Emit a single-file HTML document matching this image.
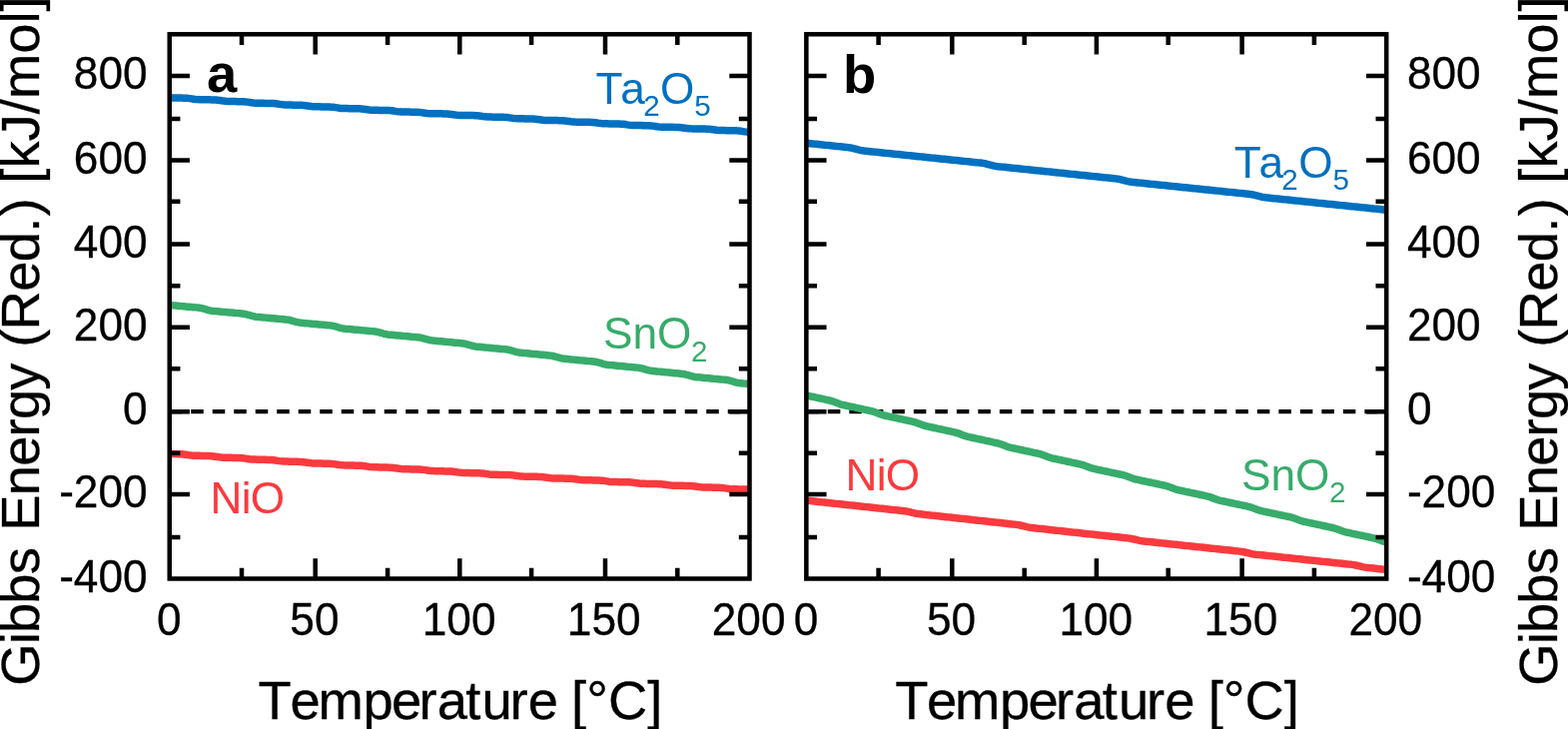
<!DOCTYPE html>
<html><head><meta charset="utf-8"><title>Gibbs Energy (Red.) vs Temperature</title>
<style>
html,body{margin:0;padding:0;background:#fff;}
body{width:1570px;height:730px;overflow:hidden;}
svg{display:block;}
text{font-kerning:none;font-family:"Liberation Sans",Arial,Helvetica,sans-serif;fill:#000;}
.tk{font-size:44.2px;stroke:#000;stroke-width:0.3px;}
.ax{font-size:54.4px;stroke:#000;stroke-width:0.3px;}
.pl{font-size:54.4px;font-weight:bold;}
.sr{font-size:44.2px;}
.sb{font-size:29.5px;}
</style></head><body>
<svg width="1570" height="730" viewBox="0 0 1570 730">
<rect width="1570" height="730" fill="#fff"/>
<defs>
<clipPath id="ca"><rect x="169.75" y="34.3" width="580.75" height="545.2"/></clipPath>
<clipPath id="cb"><rect x="807.35" y="34.3" width="580.85" height="545.2"/></clipPath>
</defs>

<g id="panel-a">
<line x1="169.75" y1="412.1" x2="750.5" y2="412.1" stroke="#000" stroke-width="4.4" stroke-dasharray="12.5 9"/>
<polyline clip-path="url(#ca)" points="165.8,97.54 167.8,97.76 169.8,97.88 171.8,97.92 173.8,97.96 175.8,98.00 177.8,98.04 179.8,98.08 181.8,98.12 183.8,98.16 185.8,98.21 187.8,98.36 189.8,98.60 191.8,98.89 193.8,99.18 195.8,99.43 197.8,99.61 199.8,99.68 201.8,99.72 203.8,99.75 205.8,99.79 207.8,99.83 209.8,99.87 211.8,99.91 213.8,99.95 215.8,100.04 217.8,100.24 219.8,100.51 221.8,100.81 223.8,101.09 225.8,101.31 227.8,101.43 229.8,101.47 231.8,101.51 233.8,101.55 235.8,101.59 237.8,101.63 239.8,101.67 241.8,101.71 243.8,101.76 245.8,101.91 247.8,102.15 249.8,102.43 251.8,102.72 253.8,102.98 255.8,103.16 257.8,103.22 259.8,103.26 261.8,103.30 263.8,103.34 265.8,103.38 267.8,103.42 269.8,103.46 271.8,103.50 273.8,103.59 275.8,103.79 277.8,104.06 279.8,104.35 281.8,104.63 283.8,104.85 285.8,104.97 287.8,105.01 289.8,105.05 291.8,105.09 293.8,105.13 295.8,105.17 297.8,105.21 299.8,105.25 301.8,105.30 303.8,105.45 305.8,105.69 307.8,105.98 309.8,106.27 311.8,106.53 313.8,106.70 315.8,106.77 317.8,106.81 319.8,106.85 321.8,106.89 323.8,106.93 325.8,106.97 327.8,107.01 329.8,107.04 331.8,107.14 333.8,107.34 335.8,107.60 337.8,107.90 339.8,108.18 341.8,108.40 343.8,108.52 345.8,108.56 347.8,108.60 349.8,108.64 351.8,108.68 353.8,108.72 355.8,108.76 357.8,108.80 359.8,108.85 361.8,109.00 363.8,109.24 365.8,109.52 367.8,109.81 369.8,110.06 371.8,110.23 373.8,110.29 375.8,110.33 377.8,110.36 379.8,110.40 381.8,110.43 383.8,110.47 385.8,110.50 387.8,110.54 389.8,110.62 391.8,110.82 393.8,111.08 395.8,111.37 397.8,111.65 399.8,111.86 401.8,111.98 403.8,112.01 405.8,112.05 407.8,112.08 409.8,112.12 411.8,112.15 413.8,112.19 415.8,112.22 417.8,112.27 419.8,112.41 421.8,112.65 423.8,112.93 425.8,113.22 427.8,113.47 429.8,113.64 431.8,113.70 433.8,113.74 435.8,113.77 437.8,113.81 439.8,113.84 441.8,113.87 443.8,113.91 445.8,113.94 447.8,114.03 449.8,114.22 451.8,114.48 453.8,114.77 455.8,115.05 457.8,115.26 459.8,115.38 461.8,115.41 463.8,115.44 465.8,115.48 467.8,115.51 469.8,115.54 471.8,115.58 473.8,115.61 475.8,115.65 477.8,115.80 479.8,116.03 481.8,116.31 483.8,116.60 485.8,116.85 487.8,117.02 489.8,117.08 491.8,117.11 493.8,117.15 495.8,117.18 497.8,117.21 499.8,117.25 501.8,117.28 503.8,117.31 505.8,117.40 507.8,117.59 509.8,117.85 511.8,118.14 513.8,118.41 515.8,118.63 517.8,118.75 519.8,118.78 521.8,118.81 523.8,118.85 525.8,118.88 527.8,118.91 529.8,118.95 531.8,118.98 533.8,119.02 535.8,119.17 537.8,119.40 539.8,119.68 541.8,119.97 543.8,120.22 545.8,120.39 547.8,120.45 549.8,120.48 551.8,120.51 553.8,120.55 555.8,120.58 557.8,120.61 559.8,120.65 561.8,120.68 563.8,120.77 565.8,120.96 567.8,121.22 569.8,121.51 571.8,121.78 573.8,122.00 575.8,122.11 577.8,122.15 579.8,122.18 581.8,122.22 583.8,122.25 585.8,122.28 587.8,122.32 589.8,122.35 591.8,122.39 593.8,122.54 595.8,122.77 597.8,123.05 599.8,123.34 601.8,123.59 603.8,123.76 605.8,123.82 607.8,123.85 609.8,123.88 611.8,123.92 613.8,123.95 615.8,123.98 617.8,124.02 619.8,124.05 621.8,124.14 623.8,124.33 625.8,124.59 627.8,124.88 629.8,125.15 631.8,125.37 633.8,125.48 635.8,125.52 637.8,125.55 639.8,125.58 641.8,125.62 643.8,125.65 645.8,125.68 647.8,125.72 649.8,125.76 651.8,125.91 653.8,126.14 655.8,126.42 657.8,126.71 659.8,126.95 661.8,127.13 663.8,127.19 665.8,127.22 667.8,127.25 669.8,127.29 671.8,127.32 673.8,127.35 675.8,127.39 677.8,127.42 679.8,127.50 681.8,127.70 683.8,127.96 685.8,128.25 687.8,128.52 689.8,128.74 691.8,128.85 693.8,128.89 695.8,128.92 697.8,128.95 699.8,128.99 701.8,129.02 703.8,129.05 705.8,129.09 707.8,129.13 709.8,129.27 711.8,129.51 713.8,129.79 715.8,130.07 717.8,130.32 719.8,130.49 721.8,130.55 723.8,130.59 725.8,130.62 727.8,130.65 729.8,130.69 731.8,130.72 733.8,130.76 735.8,130.79 737.8,130.87 739.8,131.07 741.8,131.33 743.8,131.62 745.8,131.89 747.8,132.11 749.8,132.22 751.8,132.26 753.8,132.29" fill="none" stroke="#0070c0" stroke-width="7.5" stroke-linejoin="round"/>
<polyline clip-path="url(#ca)" points="165.8,304.89 167.8,305.29 169.8,305.51 171.8,305.70 173.8,305.88 175.8,306.06 177.8,306.24 179.8,306.43 181.8,306.61 183.8,306.79 185.8,306.98 187.8,307.16 189.8,307.34 191.8,307.53 193.8,307.71 195.8,307.89 197.8,308.08 199.8,308.28 201.8,308.63 203.8,309.13 205.8,309.71 207.8,310.29 209.8,310.82 211.8,311.22 213.8,311.44 215.8,311.63 217.8,311.81 219.8,311.99 221.8,312.18 223.8,312.36 225.8,312.54 227.8,312.73 229.8,312.91 231.8,313.09 233.8,313.28 235.8,313.46 237.8,313.64 239.8,313.83 241.8,314.01 243.8,314.21 245.8,314.57 247.8,315.07 249.8,315.64 251.8,316.22 253.8,316.75 255.8,317.15 257.8,317.37 259.8,317.56 261.8,317.74 263.8,317.92 265.8,318.11 267.8,318.29 269.8,318.47 271.8,318.66 273.8,318.84 275.8,319.02 277.8,319.21 279.8,319.39 281.8,319.57 283.8,319.76 285.8,319.94 287.8,320.14 289.8,320.50 291.8,321.00 293.8,321.57 295.8,322.15 297.8,322.68 299.8,323.08 301.8,323.31 303.8,323.49 305.8,323.67 307.8,323.86 309.8,324.04 311.8,324.22 313.8,324.40 315.8,324.59 317.8,324.77 319.8,324.95 321.8,325.14 323.8,325.32 325.8,325.50 327.8,325.69 329.8,325.87 331.8,326.07 333.8,326.43 335.8,326.93 337.8,327.50 339.8,328.09 341.8,328.61 343.8,329.01 345.8,329.24 347.8,329.42 349.8,329.60 351.8,329.79 353.8,329.97 355.8,330.15 357.8,330.34 359.8,330.52 361.8,330.70 363.8,330.89 365.8,331.07 367.8,331.25 369.8,331.44 371.8,331.62 373.8,331.80 375.8,332.00 377.8,332.36 379.8,332.86 381.8,333.43 383.8,334.02 385.8,334.54 387.8,334.94 389.8,335.17 391.8,335.35 393.8,335.53 395.8,335.72 397.8,335.90 399.8,336.08 401.8,336.27 403.8,336.45 405.8,336.63 407.8,336.82 409.8,337.00 411.8,337.18 413.8,337.37 415.8,337.55 417.8,337.73 419.8,337.93 421.8,338.29 423.8,338.79 425.8,339.37 427.8,339.95 429.8,340.47 431.8,340.87 433.8,341.10 435.8,341.28 437.8,341.47 439.8,341.65 441.8,341.83 443.8,342.02 445.8,342.20 447.8,342.39 449.8,342.58 451.8,342.77 453.8,342.96 455.8,343.16 457.8,343.35 459.8,343.54 461.8,343.73 463.8,343.93 465.8,344.30 467.8,344.81 469.8,345.39 471.8,345.98 473.8,346.51 475.8,346.92 477.8,347.15 479.8,347.35 481.8,347.54 483.8,347.73 485.8,347.92 487.8,348.11 489.8,348.30 491.8,348.49 493.8,348.68 495.8,348.87 497.8,349.06 499.8,349.25 501.8,349.45 503.8,349.64 505.8,349.83 507.8,350.03 509.8,350.40 511.8,350.91 513.8,351.49 515.8,352.08 517.8,352.61 519.8,353.02 521.8,353.25 523.8,353.44 525.8,353.64 527.8,353.83 529.8,354.02 531.8,354.21 533.8,354.40 535.8,354.59 537.8,354.78 539.8,354.97 541.8,355.16 543.8,355.35 545.8,355.54 547.8,355.74 549.8,355.93 551.8,356.13 553.8,356.50 555.8,357.01 557.8,357.59 559.8,358.18 561.8,358.71 563.8,359.12 565.8,359.35 567.8,359.54 569.8,359.73 571.8,359.93 573.8,360.12 575.8,360.31 577.8,360.50 579.8,360.69 581.8,360.88 583.8,361.07 585.8,361.26 587.8,361.45 589.8,361.64 591.8,361.83 593.8,362.03 595.8,362.23 597.8,362.60 599.8,363.11 601.8,363.69 603.8,364.28 605.8,364.81 607.8,365.22 609.8,365.45 611.8,365.64 613.8,365.83 615.8,366.02 617.8,366.22 619.8,366.41 621.8,366.60 623.8,366.79 625.8,366.98 627.8,367.17 629.8,367.36 631.8,367.55 633.8,367.74 635.8,367.93 637.8,368.12 639.8,368.33 641.8,368.70 643.8,369.20 645.8,369.79 647.8,370.38 649.8,370.91 651.8,371.32 653.8,371.55 655.8,371.74 657.8,371.93 659.8,372.12 661.8,372.31 663.8,372.51 665.8,372.70 667.8,372.89 669.8,373.08 671.8,373.27 673.8,373.46 675.8,373.65 677.8,373.84 679.8,374.03 681.8,374.22 683.8,374.43 685.8,374.80 687.8,375.30 689.8,375.89 691.8,376.48 693.8,377.01 695.8,377.42 697.8,377.65 699.8,377.84 701.8,378.03 703.8,378.22 705.8,378.41 707.8,378.60 709.8,378.80 711.8,378.99 713.8,379.18 715.8,379.37 717.8,379.56 719.8,379.75 721.8,379.94 723.8,380.13 725.8,380.32 727.8,380.53 729.8,380.89 731.8,381.40 733.8,381.98 735.8,382.58 737.8,383.11 739.8,383.52 741.8,383.75 743.8,383.94 745.8,384.13 747.8,384.32 749.8,384.51 751.8,384.70 753.8,384.89" fill="none" stroke="#37ac6b" stroke-width="7.5" stroke-linejoin="round"/>
<polyline clip-path="url(#ca)" points="165.8,454.35 167.8,454.40 169.8,454.45 171.8,454.49 173.8,454.54 175.8,454.59 177.8,454.64 179.8,454.69 181.8,454.79 183.8,455.00 185.8,455.27 187.8,455.58 189.8,455.86 191.8,456.09 193.8,456.22 195.8,456.27 197.8,456.32 199.8,456.37 201.8,456.42 203.8,456.47 205.8,456.51 207.8,456.56 209.8,456.61 211.8,456.71 213.8,456.92 215.8,457.20 217.8,457.50 219.8,457.79 221.8,458.02 223.8,458.15 225.8,458.20 227.8,458.24 229.8,458.29 231.8,458.34 233.8,458.39 235.8,458.44 237.8,458.48 239.8,458.53 241.8,458.63 243.8,458.84 245.8,459.12 247.8,459.42 249.8,459.71 251.8,459.94 253.8,460.07 255.8,460.12 257.8,460.17 259.8,460.21 261.8,460.26 263.8,460.31 265.8,460.36 267.8,460.41 269.8,460.46 271.8,460.56 273.8,460.76 275.8,461.04 277.8,461.34 279.8,461.63 281.8,461.86 283.8,461.99 285.8,462.04 287.8,462.09 289.8,462.14 291.8,462.19 293.8,462.23 295.8,462.28 297.8,462.33 299.8,462.38 301.8,462.48 303.8,462.69 305.8,462.96 307.8,463.27 309.8,463.56 311.8,463.79 313.8,463.92 315.8,463.96 317.8,464.01 319.8,464.06 321.8,464.11 323.8,464.16 325.8,464.21 327.8,464.25 329.8,464.30 331.8,464.40 333.8,464.61 335.8,464.89 337.8,465.19 339.8,465.48 341.8,465.71 343.8,465.84 345.8,465.89 347.8,465.94 349.8,465.98 351.8,466.03 353.8,466.08 355.8,466.13 357.8,466.18 359.8,466.23 361.8,466.33 363.8,466.53 365.8,466.81 367.8,467.11 369.8,467.40 371.8,467.63 373.8,467.76 375.8,467.81 377.8,467.86 379.8,467.91 381.8,467.96 383.8,468.00 385.8,468.05 387.8,468.10 389.8,468.15 391.8,468.25 393.8,468.46 395.8,468.73 397.8,469.04 399.8,469.32 401.8,469.55 403.8,469.68 405.8,469.73 407.8,469.78 409.8,469.83 411.8,469.88 413.8,469.93 415.8,469.98 417.8,470.02 419.8,470.07 421.8,470.17 423.8,470.38 425.8,470.66 427.8,470.96 429.8,471.25 431.8,471.48 433.8,471.61 435.8,471.66 437.8,471.71 439.8,471.75 441.8,471.80 443.8,471.85 445.8,471.90 447.8,471.94 449.8,471.98 451.8,472.07 453.8,472.27 455.8,472.54 457.8,472.84 459.8,473.12 461.8,473.34 463.8,473.46 465.8,473.50 467.8,473.54 469.8,473.58 471.8,473.63 473.8,473.67 475.8,473.71 477.8,473.75 479.8,473.79 481.8,473.88 483.8,474.08 485.8,474.35 487.8,474.65 489.8,474.93 491.8,475.15 493.8,475.27 495.8,475.32 497.8,475.36 499.8,475.40 501.8,475.44 503.8,475.48 505.8,475.52 507.8,475.56 509.8,475.60 511.8,475.69 513.8,475.89 515.8,476.16 517.8,476.46 519.8,476.74 521.8,476.96 523.8,477.09 525.8,477.13 527.8,477.17 529.8,477.21 531.8,477.25 533.8,477.29 535.8,477.33 537.8,477.37 539.8,477.41 541.8,477.50 543.8,477.71 545.8,477.98 547.8,478.27 549.8,478.55 551.8,478.77 553.8,478.90 555.8,478.94 557.8,478.98 559.8,479.02 561.8,479.06 563.8,479.10 565.8,479.14 567.8,479.18 569.8,479.22 571.8,479.32 573.8,479.52 575.8,479.79 577.8,480.08 579.8,480.36 581.8,480.59 583.8,480.71 585.8,480.75 587.8,480.79 589.8,480.83 591.8,480.87 593.8,480.91 595.8,480.95 597.8,481.00 599.8,481.04 601.8,481.13 603.8,481.33 605.8,481.60 607.8,481.90 609.8,482.18 611.8,482.40 613.8,482.52 615.8,482.56 617.8,482.60 619.8,482.64 621.8,482.69 623.8,482.73 625.8,482.77 627.8,482.81 629.8,482.85 631.8,482.94 633.8,483.14 635.8,483.41 637.8,483.71 639.8,483.99 641.8,484.21 643.8,484.33 645.8,484.37 647.8,484.42 649.8,484.46 651.8,484.50 653.8,484.54 655.8,484.58 657.8,484.62 659.8,484.66 661.8,484.75 663.8,484.95 665.8,485.22 667.8,485.52 669.8,485.80 671.8,486.02 673.8,486.14 675.8,486.19 677.8,486.23 679.8,486.27 681.8,486.31 683.8,486.35 685.8,486.39 687.8,486.43 689.8,486.47 691.8,486.56 693.8,486.77 695.8,487.04 697.8,487.33 699.8,487.61 701.8,487.83 703.8,487.96 705.8,488.00 707.8,488.04 709.8,488.08 711.8,488.12 713.8,488.16 715.8,488.20 717.8,488.24 719.8,488.28 721.8,488.38 723.8,488.58 725.8,488.85 727.8,489.14 729.8,489.42 731.8,489.65 733.8,489.77 735.8,489.81 737.8,489.85 739.8,489.89 741.8,489.93 743.8,489.97 745.8,490.01 747.8,490.05 749.8,490.10 751.8,490.19 753.8,490.39" fill="none" stroke="#fa3a3e" stroke-width="7.5" stroke-linejoin="round"/>
<path d="M242.00 579.5v-10.7M242.00 34.3v10.7M315.70 579.5v-20.2M315.70 34.3v20.2M388.10 579.5v-10.7M388.10 34.3v10.7M460.30 579.5v-20.2M460.30 34.3v20.2M532.10 579.5v-10.7M532.10 34.3v10.7M606.00 579.5v-20.2M606.00 34.3v20.2M678.30 579.5v-10.7M678.30 34.3v10.7M169.75 538.10h10.7M750.5 538.10h-10.7M169.75 495.05h20.2M750.5 495.05h-20.2M169.75 453.70h10.7M750.5 453.70h-10.7M169.75 412.20h20.2M750.5 412.20h-20.2M169.75 369.30h10.7M750.5 369.30h-10.7M169.75 327.70h20.2M750.5 327.70h-20.2M169.75 286.20h10.7M750.5 286.20h-10.7M169.75 244.60h20.2M750.5 244.60h-20.2M169.75 201.80h10.7M750.5 201.80h-10.7M169.75 160.50h20.2M750.5 160.50h-20.2M169.75 119.00h10.7M750.5 119.00h-10.7M169.75 76.00h20.2M750.5 76.00h-20.2" stroke="#000" stroke-width="4.5" fill="none"/>
<rect x="169.75" y="34.3" width="580.75" height="545.20" fill="none" stroke="#000" stroke-width="4.5"/>
<text class="tk" transform="translate(169.4,635.6) scale(1,1.04)" text-anchor="middle">0</text>
<text class="tk" transform="translate(314.9,635.6) scale(1,1.04)" text-anchor="middle">50</text>
<text class="tk" transform="translate(459.6,635.6) scale(1,1.04)" text-anchor="middle">100</text>
<text class="tk" transform="translate(604.7,635.6) scale(1,1.04)" text-anchor="middle">150</text>
<text class="tk" transform="translate(749.6,635.6) scale(1,1.04)" text-anchor="middle">200</text>
</g>
<g id="panel-b">
<line x1="807.35" y1="412.1" x2="1388.2" y2="412.1" stroke="#000" stroke-width="4.4" stroke-dasharray="12.5 9"/>
<polyline clip-path="url(#cb)" points="803.4,142.89 805.4,143.10 807.4,143.30 809.4,143.51 811.4,143.72 813.4,143.92 815.4,144.13 817.4,144.34 819.4,144.54 821.4,144.75 823.4,144.96 825.4,145.16 827.4,145.37 829.4,145.58 831.4,145.78 833.4,145.99 835.4,146.20 837.4,146.40 839.4,146.61 841.4,146.81 843.4,147.02 845.4,147.23 847.4,147.43 849.4,147.64 851.4,147.95 853.4,148.38 855.4,148.89 857.4,149.43 859.4,149.96 861.4,150.44 863.4,150.83 865.4,151.09 867.4,151.30 869.4,151.51 871.4,151.71 873.4,151.92 875.4,152.13 877.4,152.33 879.4,152.54 881.4,152.74 883.4,152.95 885.4,153.16 887.4,153.36 889.4,153.57 891.4,153.78 893.4,153.98 895.4,154.19 897.4,154.40 899.4,154.60 901.4,154.81 903.4,155.02 905.4,155.22 907.4,155.43 909.4,155.64 911.4,155.84 913.4,156.05 915.4,156.25 917.4,156.46 919.4,156.67 921.4,156.87 923.4,157.08 925.4,157.29 927.4,157.49 929.4,157.70 931.4,157.91 933.4,158.11 935.4,158.32 937.4,158.53 939.4,158.73 941.4,158.94 943.4,159.15 945.4,159.35 947.4,159.56 949.4,159.77 951.4,159.97 953.4,160.18 955.4,160.38 957.4,160.59 959.4,160.80 961.4,161.00 963.4,161.21 965.4,161.42 967.4,161.62 969.4,161.83 971.4,162.04 973.4,162.24 975.4,162.45 977.4,162.66 979.4,162.86 981.4,163.07 983.4,163.28 985.4,163.59 987.4,164.02 989.4,164.52 991.4,165.06 993.4,165.59 995.4,166.08 997.4,166.47 999.4,166.73 1001.4,166.93 1003.4,167.14 1005.4,167.35 1007.4,167.55 1009.4,167.76 1011.4,167.97 1013.4,168.17 1015.4,168.38 1017.4,168.59 1019.4,168.79 1021.4,169.00 1023.4,169.21 1025.3,169.41 1027.3,169.62 1029.3,169.83 1031.3,170.03 1033.3,170.24 1035.3,170.44 1037.3,170.65 1039.3,170.86 1041.3,171.06 1043.3,171.27 1045.3,171.48 1047.3,171.68 1049.3,171.89 1051.3,172.10 1053.3,172.30 1055.3,172.51 1057.3,172.72 1059.3,172.92 1061.3,173.13 1063.3,173.34 1065.3,173.54 1067.3,173.75 1069.3,173.95 1071.3,174.16 1073.3,174.37 1075.3,174.57 1077.3,174.78 1079.3,174.99 1081.3,175.19 1083.3,175.40 1085.3,175.60 1087.3,175.81 1089.3,176.01 1091.3,176.22 1093.3,176.42 1095.3,176.63 1097.3,176.83 1099.3,177.04 1101.3,177.24 1103.3,177.45 1105.3,177.65 1107.3,177.86 1109.3,178.06 1111.3,178.27 1113.3,178.47 1115.3,178.68 1117.3,178.88 1119.3,179.19 1121.3,179.62 1123.3,180.12 1125.3,180.66 1127.3,181.19 1129.3,181.67 1131.3,182.06 1133.3,182.32 1135.3,182.53 1137.3,182.73 1139.3,182.93 1141.3,183.14 1143.3,183.34 1145.3,183.55 1147.3,183.75 1149.3,183.96 1151.3,184.16 1153.3,184.37 1155.3,184.57 1157.3,184.78 1159.3,184.98 1161.3,185.19 1163.3,185.39 1165.3,185.60 1167.3,185.80 1169.3,186.01 1171.3,186.21 1173.3,186.42 1175.3,186.62 1177.3,186.83 1179.3,187.03 1181.3,187.24 1183.3,187.44 1185.3,187.65 1187.3,187.85 1189.3,188.06 1191.3,188.26 1193.3,188.46 1195.3,188.67 1197.3,188.87 1199.3,189.08 1201.3,189.28 1203.3,189.49 1205.3,189.69 1207.3,189.90 1209.3,190.10 1211.3,190.31 1213.3,190.51 1215.3,190.72 1217.3,190.92 1219.3,191.13 1221.3,191.33 1223.3,191.54 1225.3,191.74 1227.3,191.95 1229.3,192.15 1231.3,192.36 1233.3,192.56 1235.3,192.77 1237.3,192.97 1239.3,193.18 1241.3,193.38 1243.3,193.59 1245.3,193.79 1247.3,194.00 1249.3,194.20 1251.3,194.41 1253.3,194.71 1255.3,195.14 1257.3,195.64 1259.3,196.18 1261.3,196.71 1263.3,197.20 1265.3,197.58 1267.3,197.84 1269.3,198.05 1271.3,198.25 1273.3,198.46 1275.3,198.66 1277.3,198.87 1279.3,199.07 1281.3,199.28 1283.3,199.48 1285.3,199.69 1287.3,199.89 1289.3,200.10 1291.3,200.30 1293.3,200.51 1295.3,200.71 1297.3,200.92 1299.3,201.12 1301.3,201.33 1303.3,201.53 1305.3,201.73 1307.3,201.94 1309.3,202.14 1311.3,202.35 1313.3,202.55 1315.3,202.76 1317.3,202.96 1319.3,203.17 1321.3,203.37 1323.3,203.58 1325.3,203.78 1327.3,203.99 1329.3,204.19 1331.3,204.40 1333.3,204.60 1335.3,204.81 1337.3,205.01 1339.3,205.22 1341.3,205.42 1343.3,205.63 1345.3,205.83 1347.3,206.04 1349.3,206.24 1351.3,206.45 1353.3,206.65 1355.3,206.86 1357.3,207.06 1359.3,207.26 1361.3,207.47 1363.3,207.67 1365.3,207.88 1367.3,208.08 1369.3,208.29 1371.3,208.49 1373.3,208.70 1375.3,208.90 1377.3,209.11 1379.3,209.31 1381.3,209.52 1383.3,209.72 1385.3,209.93 1387.3,210.24 1389.3,210.66 1391.3,211.17" fill="none" stroke="#0070c0" stroke-width="7.5" stroke-linejoin="round"/>
<polyline clip-path="url(#cb)" points="803.4,395.09 805.4,395.52 807.4,395.96 809.4,396.39 811.4,396.82 813.4,397.26 815.4,397.69 817.4,398.12 819.4,398.55 821.4,398.99 823.4,399.42 825.4,399.85 827.4,400.29 829.4,400.72 831.4,401.19 833.4,401.82 835.4,402.54 837.4,403.31 839.4,404.07 841.4,404.77 843.4,405.34 845.4,405.78 847.4,406.22 849.4,406.65 851.4,407.08 853.4,407.51 855.4,407.95 857.4,408.38 859.4,408.81 861.4,409.25 863.4,409.68 865.4,410.11 867.4,410.55 869.4,410.98 871.4,411.41 873.4,411.89 875.4,412.51 877.4,413.23 879.4,414.00 881.4,414.76 883.4,415.46 885.4,416.03 887.4,416.47 889.4,416.91 891.4,417.34 893.4,417.77 895.4,418.21 897.4,418.64 899.4,419.07 901.4,419.51 903.4,419.94 905.4,420.37 907.4,420.80 909.4,421.24 911.4,421.67 913.4,422.10 915.4,422.58 917.4,423.20 919.4,423.92 921.4,424.70 923.4,425.46 925.4,426.15 927.4,426.72 929.4,427.17 931.4,427.60 933.4,428.03 935.4,428.47 937.4,428.90 939.4,429.33 941.4,429.76 943.4,430.20 945.4,430.63 947.4,431.06 949.4,431.50 951.4,431.93 953.4,432.36 955.4,432.80 957.4,433.27 959.4,433.89 961.4,434.62 963.4,435.39 965.4,436.15 967.4,436.84 969.4,437.42 971.4,437.86 973.4,438.29 975.4,438.72 977.4,439.16 979.4,439.59 981.4,440.02 983.4,440.46 985.4,440.89 987.4,441.32 989.4,441.76 991.4,442.19 993.4,442.62 995.4,443.05 997.4,443.49 999.4,443.96 1001.4,444.58 1003.4,445.31 1005.4,446.08 1007.4,446.84 1009.4,447.53 1011.4,448.11 1013.4,448.55 1015.4,448.98 1017.4,449.42 1019.4,449.85 1021.4,450.28 1023.4,450.72 1025.3,451.15 1027.3,451.58 1029.3,452.01 1031.3,452.45 1033.3,452.88 1035.3,453.31 1037.3,453.75 1039.3,454.18 1041.3,454.65 1043.3,455.28 1045.3,456.00 1047.3,456.77 1049.3,457.53 1051.3,458.23 1053.3,458.80 1055.3,459.24 1057.3,459.68 1059.3,460.11 1061.3,460.54 1063.3,460.97 1065.3,461.41 1067.3,461.84 1069.3,462.27 1071.3,462.71 1073.3,463.14 1075.3,463.57 1077.3,464.01 1079.3,464.44 1081.3,464.87 1083.3,465.35 1085.3,465.96 1087.3,466.68 1089.3,467.44 1091.3,468.20 1093.3,468.89 1095.3,469.45 1097.3,469.89 1099.3,470.32 1101.3,470.74 1103.3,471.17 1105.3,471.60 1107.3,472.02 1109.3,472.45 1111.3,472.88 1113.3,473.30 1115.3,473.73 1117.3,474.16 1119.3,474.59 1121.3,475.01 1123.3,475.44 1125.3,475.91 1127.3,476.52 1129.3,477.24 1131.3,478.01 1133.3,478.76 1135.3,479.45 1137.3,480.02 1139.3,480.45 1141.3,480.88 1143.3,481.31 1145.3,481.73 1147.3,482.16 1149.3,482.59 1151.3,483.01 1153.3,483.44 1155.3,483.87 1157.3,484.29 1159.3,484.72 1161.3,485.15 1163.3,485.57 1165.3,486.00 1167.3,486.47 1169.3,487.09 1171.3,487.80 1173.3,488.57 1175.3,489.32 1177.3,490.01 1179.3,490.58 1181.3,491.02 1183.3,491.44 1185.3,491.87 1187.3,492.30 1189.3,492.72 1191.3,493.15 1193.3,493.58 1195.3,494.00 1197.3,494.43 1199.3,494.86 1201.3,495.28 1203.3,495.71 1205.3,496.14 1207.3,496.56 1209.3,497.03 1211.3,497.65 1213.3,498.37 1215.3,499.13 1217.3,499.89 1219.3,500.57 1221.3,501.14 1223.3,501.58 1225.3,502.00 1227.3,502.43 1229.3,502.86 1231.3,503.28 1233.3,503.71 1235.3,504.14 1237.3,504.57 1239.3,504.99 1241.3,505.42 1243.3,505.85 1245.3,506.27 1247.3,506.70 1249.3,507.13 1251.3,507.59 1253.3,508.21 1255.3,508.93 1257.3,509.69 1259.3,510.45 1261.3,511.14 1263.3,511.70 1265.3,512.14 1267.3,512.57 1269.3,512.99 1271.3,513.42 1273.3,513.85 1275.3,514.27 1277.3,514.70 1279.3,515.13 1281.3,515.55 1283.3,515.98 1285.3,516.41 1287.3,516.83 1289.3,517.26 1291.3,517.69 1293.3,518.16 1295.3,518.77 1297.3,519.49 1299.3,520.26 1301.3,521.01 1303.3,521.70 1305.3,522.27 1307.3,522.70 1309.3,523.13 1311.3,523.56 1313.3,523.98 1315.3,524.41 1317.3,524.84 1319.3,525.26 1321.3,525.69 1323.3,526.12 1325.3,526.54 1327.3,526.97 1329.3,527.40 1331.3,527.82 1333.3,528.25 1335.3,528.72 1337.3,529.34 1339.3,530.05 1341.3,530.82 1343.3,531.57 1345.3,532.26 1347.3,532.83 1349.3,533.26 1351.3,533.69 1353.3,534.12 1355.3,534.55 1357.3,534.97 1359.3,535.40 1361.3,535.83 1363.3,536.25 1365.3,536.68 1367.3,537.11 1369.3,537.53 1371.3,537.96 1373.3,538.39 1375.3,538.81 1377.3,539.28 1379.3,539.90 1381.3,540.62 1383.3,541.38 1385.3,542.13 1387.3,542.82 1389.3,543.39 1391.3,543.83" fill="none" stroke="#37ac6b" stroke-width="7.5" stroke-linejoin="round"/>
<polyline clip-path="url(#cb)" points="803.4,500.31 805.4,500.74 807.4,501.10 809.4,501.35 811.4,501.57 813.4,501.79 815.4,502.00 817.4,502.22 819.4,502.43 821.4,502.65 823.4,502.86 825.4,503.08 827.4,503.30 829.4,503.51 831.4,503.73 833.4,503.94 835.4,504.16 837.4,504.38 839.4,504.59 841.4,504.81 843.4,505.02 845.4,505.24 847.4,505.45 849.4,505.67 851.4,505.89 853.4,506.10 855.4,506.32 857.4,506.53 859.4,506.75 861.4,506.97 863.4,507.18 865.4,507.40 867.4,507.61 869.4,507.83 871.4,508.04 873.4,508.26 875.4,508.48 877.4,508.69 879.4,508.91 881.4,509.12 883.4,509.34 885.4,509.56 887.4,509.77 889.4,509.99 891.4,510.20 893.4,510.42 895.4,510.64 897.4,510.85 899.4,511.07 901.4,511.28 903.4,511.50 905.4,511.72 907.4,512.01 909.4,512.40 911.4,512.85 913.4,513.32 915.4,513.79 917.4,514.22 919.4,514.58 921.4,514.84 923.4,515.06 925.4,515.27 927.4,515.49 929.4,515.70 931.4,515.92 933.4,516.14 935.4,516.35 937.4,516.57 939.4,516.78 941.4,517.00 943.4,517.22 945.4,517.43 947.4,517.65 949.4,517.86 951.4,518.08 953.4,518.29 955.4,518.51 957.4,518.73 959.4,518.94 961.4,519.16 963.4,519.38 965.4,519.60 967.4,519.82 969.4,520.04 971.4,520.26 973.4,520.48 975.4,520.71 977.4,520.93 979.4,521.15 981.4,521.37 983.4,521.59 985.4,521.81 987.4,522.03 989.4,522.25 991.4,522.47 993.4,522.69 995.4,522.91 997.4,523.13 999.4,523.35 1001.4,523.57 1003.4,523.79 1005.4,524.01 1007.4,524.23 1009.4,524.45 1011.4,524.67 1013.4,524.90 1015.4,525.12 1017.4,525.34 1019.4,525.64 1021.4,526.03 1023.4,526.48 1025.3,526.96 1027.3,527.44 1029.3,527.87 1031.3,528.24 1033.3,528.50 1035.3,528.72 1037.3,528.94 1039.3,529.16 1041.3,529.38 1043.3,529.60 1045.3,529.82 1047.3,530.04 1049.3,530.26 1051.3,530.49 1053.3,530.71 1055.3,530.93 1057.3,531.15 1059.3,531.37 1061.3,531.59 1063.3,531.81 1065.3,532.03 1067.3,532.25 1069.3,532.47 1071.3,532.69 1073.3,532.91 1075.3,533.13 1077.3,533.35 1079.3,533.57 1081.3,533.79 1083.3,534.01 1085.3,534.22 1087.3,534.43 1089.3,534.65 1091.3,534.86 1093.3,535.07 1095.3,535.28 1097.3,535.49 1099.3,535.70 1101.3,535.91 1103.3,536.13 1105.3,536.34 1107.3,536.55 1109.3,536.76 1111.3,536.97 1113.3,537.18 1115.3,537.39 1117.3,537.60 1119.3,537.82 1121.3,538.03 1123.3,538.24 1125.3,538.45 1127.3,538.66 1129.3,538.87 1131.3,539.16 1133.3,539.55 1135.3,539.99 1137.3,540.46 1139.3,540.93 1141.3,541.35 1143.3,541.71 1145.3,541.96 1147.3,542.17 1149.3,542.38 1151.3,542.60 1153.3,542.81 1155.3,543.02 1157.3,543.23 1159.3,543.44 1161.3,543.65 1163.3,543.86 1165.3,544.08 1167.3,544.29 1169.3,544.50 1171.3,544.71 1173.3,544.92 1175.3,545.13 1177.3,545.34 1179.3,545.55 1181.3,545.77 1183.3,545.98 1185.3,546.19 1187.3,546.40 1189.3,546.61 1191.3,546.82 1193.3,547.03 1195.3,547.24 1197.3,547.46 1199.3,547.67 1201.3,547.88 1203.3,548.09 1205.3,548.30 1207.3,548.51 1209.3,548.72 1211.3,548.94 1213.3,549.15 1215.3,549.36 1217.3,549.57 1219.3,549.78 1221.3,549.99 1223.3,550.20 1225.3,550.41 1227.3,550.63 1229.3,550.84 1231.3,551.05 1233.3,551.26 1235.3,551.47 1237.3,551.68 1239.3,551.89 1241.3,552.11 1243.3,552.40 1245.3,552.78 1247.3,553.23 1249.3,553.70 1251.3,554.16 1253.3,554.59 1255.3,554.94 1257.3,555.20 1259.3,555.41 1261.3,555.62 1263.3,555.83 1265.3,556.04 1267.3,556.25 1269.3,556.46 1271.3,556.67 1273.3,556.89 1275.3,557.10 1277.3,557.31 1279.3,557.52 1281.3,557.73 1283.3,557.94 1285.3,558.15 1287.3,558.36 1289.3,558.58 1291.3,558.79 1293.3,559.00 1295.3,559.21 1297.3,559.42 1299.3,559.63 1301.3,559.84 1303.3,560.06 1305.3,560.27 1307.3,560.48 1309.3,560.69 1311.3,560.90 1313.3,561.11 1315.3,561.32 1317.3,561.53 1319.3,561.75 1321.3,561.96 1323.3,562.17 1325.3,562.38 1327.3,562.59 1329.3,562.80 1331.3,563.01 1333.3,563.22 1335.3,563.44 1337.3,563.65 1339.3,563.86 1341.3,564.07 1343.3,564.28 1345.3,564.49 1347.3,564.70 1349.3,564.92 1351.3,565.13 1353.3,565.34 1355.3,565.63 1357.3,566.01 1359.3,566.46 1361.3,566.93 1363.3,567.39 1365.3,567.82 1367.3,568.18 1369.3,568.43 1371.3,568.64 1373.3,568.85 1375.3,569.06 1377.3,569.27 1379.3,569.48 1381.3,569.70 1383.3,569.91 1385.3,570.12 1387.3,570.33 1389.3,570.54 1391.3,570.75" fill="none" stroke="#fa3a3e" stroke-width="7.5" stroke-linejoin="round"/>
<path d="M879.60 579.5v-10.7M879.60 34.3v10.7M953.30 579.5v-20.2M953.30 34.3v20.2M1025.70 579.5v-10.7M1025.70 34.3v10.7M1097.90 579.5v-20.2M1097.90 34.3v20.2M1169.70 579.5v-10.7M1169.70 34.3v10.7M1243.60 579.5v-20.2M1243.60 34.3v20.2M1315.90 579.5v-10.7M1315.90 34.3v10.7M807.35 538.10h10.7M1388.2 538.10h-10.7M807.35 495.05h20.2M1388.2 495.05h-20.2M807.35 453.70h10.7M1388.2 453.70h-10.7M807.35 412.20h20.2M1388.2 412.20h-20.2M807.35 369.30h10.7M1388.2 369.30h-10.7M807.35 327.70h20.2M1388.2 327.70h-20.2M807.35 286.20h10.7M1388.2 286.20h-10.7M807.35 244.60h20.2M1388.2 244.60h-20.2M807.35 201.80h10.7M1388.2 201.80h-10.7M807.35 160.50h20.2M1388.2 160.50h-20.2M807.35 119.00h10.7M1388.2 119.00h-10.7M807.35 76.00h20.2M1388.2 76.00h-20.2" stroke="#000" stroke-width="4.5" fill="none"/>
<rect x="807.35" y="34.3" width="580.85" height="545.20" fill="none" stroke="#000" stroke-width="4.5"/>
<text class="tk" transform="translate(807.1,635.6) scale(1,1.04)" text-anchor="middle">0</text>
<text class="tk" transform="translate(952.6,635.6) scale(1,1.04)" text-anchor="middle">50</text>
<text class="tk" transform="translate(1097.3,635.6) scale(1,1.04)" text-anchor="middle">100</text>
<text class="tk" transform="translate(1242.4,635.6) scale(1,1.04)" text-anchor="middle">150</text>
<text class="tk" transform="translate(1387.3,635.6) scale(1,1.04)" text-anchor="middle">200</text>
</g>
<text class="tk" transform="translate(147.6,592.9) scale(1,1.04)" text-anchor="end">-400</text>
<text class="tk" transform="translate(1408.9,592.9) scale(1,1.04)" text-anchor="start">-400</text>
<text class="tk" transform="translate(147.6,508.2) scale(1,1.04)" text-anchor="end">-200</text>
<text class="tk" transform="translate(1408.9,508.2) scale(1,1.04)" text-anchor="start">-200</text>
<text class="tk" transform="translate(147.6,425.4) scale(1,1.04)" text-anchor="end">0</text>
<text class="tk" transform="translate(1408.9,425.4) scale(1,1.04)" text-anchor="start">0</text>
<text class="tk" transform="translate(147.6,340.9) scale(1,1.04)" text-anchor="end">200</text>
<text class="tk" transform="translate(1408.9,340.9) scale(1,1.04)" text-anchor="start">200</text>
<text class="tk" transform="translate(147.6,257.8) scale(1,1.04)" text-anchor="end">400</text>
<text class="tk" transform="translate(1408.9,257.8) scale(1,1.04)" text-anchor="start">400</text>
<text class="tk" transform="translate(147.6,173.7) scale(1,1.04)" text-anchor="end">600</text>
<text class="tk" transform="translate(1408.9,173.7) scale(1,1.04)" text-anchor="start">600</text>
<text class="tk" transform="translate(147.6,89.2) scale(1,1.04)" text-anchor="end">800</text>
<text class="tk" transform="translate(1408.9,89.2) scale(1,1.04)" text-anchor="start">800</text>
<text class="ax" y="719.5"><tspan x="258.6 290.5 318.4 363.5 391.9 419.4 437.7 466.2 482.5 510.4 528.7">Temperature</tspan><tspan x="572.1">[°C]</tspan></text>
<text class="ax" y="719.5"><tspan x="896.2 928.1 956.0 1001.1 1029.5 1057.0 1075.3 1103.8 1120.1 1148.0 1166.3">Temperature</tspan><tspan x="1209.7">[°C]</tspan></text>
<text class="ax" transform="translate(39.3,0) rotate(-90)"><tspan x="-686.7" y="0" letter-spacing="-0.88">Gibbs</tspan><tspan x="-531.8" y="0" letter-spacing="-0.8">Energy</tspan><tspan x="-347.8" y="0" letter-spacing="-0.7">(Red</tspan><tspan x="-232.7" y="0" letter-spacing="0">.</tspan><tspan x="-216.4" y="0" letter-spacing="0">)</tspan><tspan x="-183.7" y="0" letter-spacing="0">[kJ/mol]</tspan></text>
<text class="ax" transform="translate(1558.8,0) rotate(-90)"><tspan x="-686.7" y="0" letter-spacing="-0.88">Gibbs</tspan><tspan x="-531.8" y="0" letter-spacing="-0.8">Energy</tspan><tspan x="-347.8" y="0" letter-spacing="-0.7">(Red</tspan><tspan x="-232.7" y="0" letter-spacing="0">.</tspan><tspan x="-216.4" y="0" letter-spacing="0">)</tspan><tspan x="-183.7" y="0" letter-spacing="0">[kJ/mol]</tspan></text>
<text class="pl" x="207" y="92.4">a</text>
<text class="pl" x="844" y="93.4">b</text>
<text class="sr" style="fill:#0070c0" letter-spacing="0"><tspan x="596.6" y="103.6">T</tspan><tspan x="621.3" y="103.6">a</tspan><tspan class="sb" x="644.2" y="115.8">2</tspan><tspan x="661.1" y="103.6">O</tspan><tspan class="sb" x="695.3" y="115.8">5</tspan></text>
<text class="sr" style="fill:#37ac6b" letter-spacing="0"><tspan x="604.1" y="349.3">Sn</tspan><tspan x="657.9" y="349.3">O</tspan><tspan class="sb" x="691.9" y="361.5">2</tspan></text>
<text class="sr" style="fill:#fa3a3e" letter-spacing="-0.8"><tspan x="210.6" y="514.0">NiO</tspan></text>
<text class="sr" style="fill:#0070c0" letter-spacing="0"><tspan x="1235.7" y="177.6">T</tspan><tspan x="1260.4" y="177.6">a</tspan><tspan class="sb" x="1283.3000000000002" y="189.8">2</tspan><tspan x="1300.2" y="177.6">O</tspan><tspan class="sb" x="1334.4" y="189.8">5</tspan></text>
<text class="sr" style="fill:#37ac6b" letter-spacing="0"><tspan x="1243.1" y="490.8">Sn</tspan><tspan x="1296.9" y="490.8">O</tspan><tspan class="sb" x="1331.1" y="503.0">2</tspan></text>
<text class="sr" style="fill:#fa3a3e" letter-spacing="-0.8"><tspan x="846.6" y="491.0">NiO</tspan></text>
</svg></body></html>
